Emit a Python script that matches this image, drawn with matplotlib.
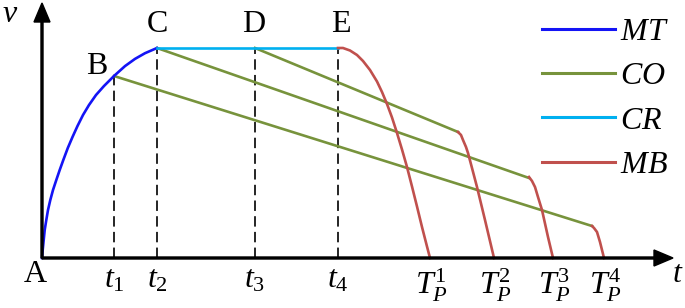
import matplotlib
matplotlib.use("Agg")
import matplotlib.pyplot as plt

### Data (t, v in drawing units)
# MT: acceleration from A through B to C
mt_t = [0, 0.7, 1.7, 2.7, 4.3, 6, 8.3, 11, 14.3, 17.7, 21.3, 25.8, 30.5, 35.5,
        41, 47, 54, 62, 72, 83, 93, 103, 115]
mt_v = [0, 8, 18, 28, 38, 48, 58, 68, 78, 88, 98, 110, 121, 132,
        143, 153, 163, 172, 182, 191.9, 199.1, 204.8, 210]
# CR: cruise from C to E
cr_t = [115, 296]
cr_v = [210, 210]
# CO: coasting lines starting at B, C, D
co_t = [[72, 550], [115, 487], [213, 416]]
co_v = [[182, 32], [210, 80], [210, 126]]
# MB: braking curves ending at T_P^1..T_P^4
mb_t = [[296, 301, 308, 315, 321, 328, 335, 340, 345, 350, 355, 360, 365, 370, 375, 380, 385, 388],
        [416, 419, 421, 424, 426, 430, 435, 443, 452],
        [487, 490, 493, 496, 500, 506, 511],
        [550, 552, 555, 558, 562]]
mb_v = [[210, 210, 207.5, 203, 197, 188, 176.5, 166, 154, 140.5, 125, 108.5, 91, 71.5, 51.5, 31, 11.5, 0],
        [126, 123, 118, 111, 105, 90, 71, 38, 0],
        [81, 77, 71, 61, 48, 21, 0],
        [32, 30, 26, 16, 0]]

t_marks = [72, 115, 213, 296]
t_mark_v = [182, 210, 210, 210]
t_labels = [r"$t_1$", r"$t_2$", r"$t_3$", r"$t_4$"]
tp_marks = [388, 452, 511, 562]
tp_labels = [r"$T_P^1$", r"$T_P^2$", r"$T_P^3$", r"$T_P^4$"]
points = ["A", "B", "C", "D", "E"]
points_t = [-7, 55, 115, 212, 299]
points_v = [-16, 191, 233, 233, 233]

blue = "#1414f5"
green = "#77933c"
lblue = "#00b0f0"
red = "#c0504d"

plt.rcParams["font.family"] = "Liberation Serif"
plt.rcParams["mathtext.fontset"] = "custom"
plt.rcParams["mathtext.rm"] = "Liberation Serif"
plt.rcParams["mathtext.it"] = "Liberation Serif:italic"
plt.rcParams["lines.scale_dashes"] = False

fig = plt.figure(figsize=(6.85, 3.08), dpi=100)
ax = fig.add_axes([0, 0, 1, 1])
ax.set_xlim(-42, 643)
ax.set_ylim(-50, 258)
ax.axis("off")

# dashed guide lines
for t, v in zip(t_marks, t_mark_v):
    ax.plot([t, t], [0, v], color="k", lw=1.2, ls=(0, (7.5, 3.8)), zorder=1)

lw = 1.9
h_mt, = ax.plot(mt_t, mt_v, color=blue, lw=lw, zorder=3, solid_joinstyle="round")
for tt, vv in zip(co_t, co_v):
    h_co, = ax.plot(tt, vv, color=green, lw=lw, zorder=2)
h_cr, = ax.plot(cr_t, cr_v, color=lblue, lw=lw, zorder=3)
for tt, vv in zip(mb_t, mb_v):
    h_mb, = ax.plot(tt, vv, color=red, lw=lw, zorder=4, solid_joinstyle="round")

# axes with arrows
ax.arrow(0, 0, 631, 0, width=2, head_width=16, head_length=19,
         length_includes_head=True, fc="k", ec="k", zorder=5)
ax.arrow(0, 0, 0, 255, width=2, head_width=16, head_length=19,
         length_includes_head=True, fc="k", ec="k", zorder=5)

fs = 23
ax.text(-32, 244, r"$v$", fontsize=fs, ha="center", va="center")
ax.text(636, -16, r"$t$", fontsize=fs, ha="center", va="center")
for s, t, v in zip(points, points_t, points_v):
    ax.text(t, v, s, fontsize=fs, ha="center", va="center")
for s, t in zip(t_labels, t_marks):
    ax.text(t, -7, s, fontsize=fs, ha="center", va="top")
for s, t in zip(tp_labels, tp_marks):
    ax.text(t + 1, -9, s, fontsize=fs, ha="center", va="top")

leg = ax.legend([h_mt, h_co, h_cr, h_mb], [r"$MT$", r"$CO$", r"$CR$", r"$MB$"],
                loc="upper left", bbox_to_anchor=(542 / 685, 0.943), frameon=False,
                fontsize=fs, handlelength=2.3, handletextpad=0.15,
                labelspacing=0.47, borderaxespad=0, borderpad=0)
for line in leg.get_lines():
    line.set_linewidth(2.2)

fig.savefig("out.png", dpi=100)
